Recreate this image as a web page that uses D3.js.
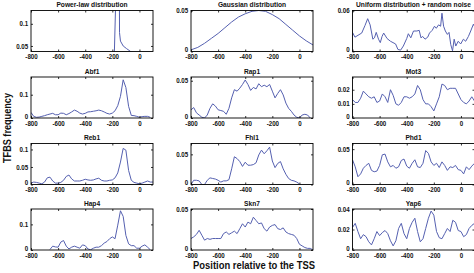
<!doctype html>
<html>
<head>
<meta charset="utf-8">
<title>TFBS frequency profiles</title>
<style>
  body { margin: 0; background: #fff; }
  svg { font-family: "Liberation Sans", Arial, sans-serif; }
  .axis path.domain { display: none; }
  .axis line { stroke: #000; stroke-width: 0.8; }
  .axis text { font-size: 6.5px; font-weight: bold; fill: #111; }
</style>
</head>
<body>
<div id="chart"></div>
<script src="https://d3js.org/d3.v7.min.js"></script>
<script>
// shared x grid (position relative to TSS)
const positions = [-800,-780,-760,-740,-720,-700,-680,-660,-640,-620,-600,-580,-560,-540,-520,-500,-480,-460,-440,-420,
  -400,-380,-360,-340,-320,-300,-280,-260,-240,-220,-200,-180,-160,-140,-120,-100,-80,-60,-40,-20,0,20,40,60,80,100];
const xTicks = [-800, -600, -400, -200, 0];

const panelTitles = ["Power-law distribution", "Gaussian distribution", "Uniform distribution + random noise",
  "Abf1", "Rap1", "Mot3", "Reb1", "Fhl1", "Phd1", "Hap4", "Skn7", "Yap6"];

// model distributions
const powerX = [-185, -158, -150, -147, -140, -120, -95, -65, -40];
const powerY = [0.035, 0.35, 0.35, 0.08, 0.061, 0.05, 0.044, 0.0375, 0.035];
const gaussX = [-800,-750,-700,-650,-600,-550,-500,-450,-400,-350,-300,-250,-200,-150,-100,-50,0,50,100];
const gaussY = [0.002,0.005,0.010,0.016,0.022,0.029,0.036,0.042,0.046,0.049,0.050,0.049,0.045,0.040,0.033,0.026,0.019,0.013,0.008];
const noiseX = [-800,-782,-732,-708,-688,-670,-650,-638,-625,-608,-595,-582,-570,-545,-520,-482,-465,-445,-425,-400,
  -388,-370,-350,-325,-308,-295,-282,-265,-245,-232,-212,-195,-182,-165,-150,-140,-128,-115,-100,-88,
  -75,-62,-50,-38,-20,-2,18,35,55,72,92,110];
const noiseY = [0.028,0.021,0.027,0.038,0.048,0.039,0.018,0.020,0.028,0.018,0.013,0.022,0.027,0.019,0.015,0.011,0.003,0.002,0.008,0.019,
  0.026,0.020,0.030,0.030,0.031,0.020,0.022,0.018,0.021,0.027,0.031,0.037,0.034,0.039,0.037,0.056,0.037,0.030,0.025,0.028,
  0.010,0.001,0.018,0.008,0.015,0.011,0.018,0.015,0.022,0.030,0.040,0.032];

// factor profiles on the shared grid
const abf1 = [0.024,0.007,0.003,0.004,0.007,0.010,0.014,0.017,0.020,0.014,0.014,0.021,0.020,0.014,0.019,0.026,0.034,0.029,0.021,0.017,
  0.020,0.026,0.027,0.029,0.031,0.034,0.031,0.026,0.020,0.017,0.021,0.031,0.053,0.093,0.164,0.131,0.050,0.011,0.010,0.007,
  0.003,0.006,0.007,0.007,0.003,null];
const rap1 = [0.011,0.014,0.007,0.004,0.001,0.000,0.004,0.013,0.019,0.016,0.011,0.010,0.009,0.005,0.013,0.027,0.038,0.036,0.040,0.045,
  0.051,0.045,0.037,0.041,0.039,0.046,0.042,0.044,0.042,0.045,0.036,0.027,0.033,0.038,0.031,0.020,0.013,0.009,0.004,0.001,
  0.000,0.004,0.005,0.004,0.000,null];
const mot3 = [0.013,0.011,0.011,0.014,0.019,0.017,0.015,0.014,0.015,0.011,0.012,0.017,0.015,0.011,0.020,0.016,0.010,0.009,0.011,0.015,
  0.015,0.014,0.015,0.017,0.023,0.020,0.013,0.010,0.010,0.008,0.005,0.010,0.015,0.024,0.023,0.020,0.021,0.021,0.021,0.017,
  0.013,0.011,0.010,0.012,0.015,0.012];
const reb1 = [0.004,0.007,0.006,0.004,0.002,0.007,0.019,0.021,0.010,0.004,0.004,0.006,0.012,0.023,0.027,0.016,0.010,0.010,0.010,0.012,
  0.015,0.013,0.012,0.013,0.016,0.018,0.012,0.010,0.010,0.012,0.013,0.019,0.033,0.064,0.103,0.098,0.040,0.012,0.006,0.004,
  0.002,0.004,0.007,0.010,0.007,0.007];
const fhl1 = [0.000,0.007,0.007,0.006,0.000,0.000,0.007,0.011,0.010,0.009,0.007,0.004,0.006,0.006,0.008,0.026,0.046,0.043,0.038,0.030,
  0.037,0.032,0.032,0.033,0.036,0.049,0.057,0.051,0.056,0.062,0.039,0.028,0.035,0.038,0.026,0.017,0.010,0.007,0.006,0.004,
  0.001,null,null,null,null,null];
const phd1 = [0.035,0.025,0.011,0.015,0.023,0.027,0.030,0.020,0.018,0.019,0.027,0.042,0.043,0.032,0.025,0.027,0.023,0.025,0.034,0.036,
  0.026,0.023,0.030,0.035,0.025,0.024,0.030,0.048,0.044,0.032,0.027,0.030,0.024,0.032,0.027,0.020,0.025,0.024,0.027,0.021,
  0.020,0.015,0.025,0.021,0.026,0.030];
const hap4 = [null,null,null,null,null,null,null,0.002,0.015,0.012,0.011,0.031,0.037,0.015,0.004,0.011,0.015,0.011,0.007,0.020,
  0.017,0.004,0.001,0.007,0.011,0.011,0.017,0.027,0.033,0.044,0.051,0.044,0.097,0.153,0.131,0.057,0.024,0.017,0.017,0.007,
  0.007,0.015,0.020,0.011,0.001,null];
const skn7 = [0.014,0.016,0.019,0.024,0.018,0.012,0.014,0.013,0.014,0.014,0.014,0.014,0.020,0.022,0.019,0.021,0.023,0.020,0.026,0.032,
  0.028,0.034,0.032,0.040,0.036,0.032,0.033,0.026,0.023,0.028,0.030,0.031,0.026,0.025,0.027,0.022,0.020,0.019,0.018,0.014,
  0.007,0.005,0.003,0.002,0.002,0.000];
const yap6 = [0.022,0.026,0.018,0.011,0.015,0.013,0.008,0.005,0.011,0.018,0.014,0.017,0.019,0.016,0.009,0.004,0.009,0.021,0.026,0.016,
  0.011,0.021,0.027,0.031,0.018,0.008,0.011,0.021,0.031,0.038,0.034,0.018,0.012,0.011,0.016,0.021,0.018,0.029,0.027,0.019,
  0.018,0.013,0.015,0.021,0.024,0.026];

// y ranges and tick labels per panel
const yMin = [0.0375, 0, 0, 0, 0, 0, 0, 0, 0, 0, 0, 0];
const yMax = [0.13, 0.05, 0.06, 0.176, 0.055, 0.029, 0.117, 0.068, 0.058, 0.16, 0.05, 0.04];
const yTicks = [[0.05, 0.1], [0, 0.05], [0, 0.06], [0, 0.1], [0, 0.05], [0, 0.01, 0.02],
  [0, 0.05, 0.1], [0, 0.05], [0, 0.05], [0, 0.1], [0, 0.05], [0, 0.02, 0.04]];

const W = 474, H = 273;
const colX = [31, 191, 352.5], rowY = [10.5, 77, 143.5, 209];
const pw = 122, ph = 41;
const squeeze = 0.95;
const lineColor = "#5560b0";

const series = [
  d3.zip(powerX, powerY), d3.zip(gaussX, gaussY), d3.zip(noiseX, noiseY),
  d3.zip(positions, abf1), d3.zip(positions, rap1), d3.zip(positions, mot3),
  d3.zip(positions, reb1), d3.zip(positions, fhl1), d3.zip(positions, phd1),
  d3.zip(positions, hap4), d3.zip(positions, skn7), d3.zip(positions, yap6)
];

const svg = d3.select("#chart").append("svg")
  .attr("width", W)
  .attr("height", H);

const fmt = d => d === 0 ? "0" : String(+d.toFixed(3));

series.forEach((data, i) => {
  const r = Math.floor(i / 3), c = i % 3;
  const g = svg.append("g")
    .attr("transform", "translate(" + colX[c] + "," + rowY[r] + ")");

  const x = d3.scaleLinear().domain([-800, 100]).range([0, pw]);
  const y = d3.scaleLinear().domain([yMin[i], yMax[i]]).range([ph, 0]);

  g.append("clipPath").attr("id", "clip" + i)
    .append("rect").attr("width", pw).attr("height", ph);

  // the curve
  g.append("path")
    .datum(data)
    .attr("clip-path", "url(#clip" + i + ")")
    .attr("fill", "none")
    .attr("stroke", lineColor)
    .attr("stroke-width", 1)
    .attr("d", d3.line()
      .defined(d => d[1] != null)
      .x(d => x(d[0]))
      .y(d => y(d[1])));

  // axes, matlab style: ticks inside on all four sides
  const bottom = g.append("g").attr("class", "axis")
    .attr("transform", "translate(0," + ph + ")")
    .call(d3.axisBottom(x).tickValues(xTicks).tickSizeInner(-2).tickSizeOuter(0).tickPadding(3)
      .tickFormat(d => String(d)));
  g.append("g").attr("class", "axis")
    .call(d3.axisTop(x).tickValues(xTicks).tickSizeInner(-2).tickSizeOuter(0).tickFormat(""));
  const left = g.append("g").attr("class", "axis")
    .call(d3.axisLeft(y).tickValues(yTicks[i]).tickSizeInner(-2).tickSizeOuter(0).tickPadding(3)
      .tickFormat(fmt));
  g.append("g").attr("class", "axis")
    .attr("transform", "translate(" + pw + ",0)")
    .call(d3.axisRight(y).tickValues(yTicks[i]).tickSizeInner(-2).tickSizeOuter(0).tickFormat(""));

  bottom.selectAll("text").attr("transform", "scale(" + squeeze + ",1)");
  // the bottom "0" label sits a little above the frame corner
  left.selectAll("text")
    .attr("transform", "scale(" + squeeze + ",1)")
    .attr("dy", d => d === yMin[i] ? "0.05em" : "0.32em");

  // frame
  g.append("rect")
    .attr("width", pw).attr("height", ph)
    .attr("fill", "none")
    .attr("stroke", "#000")
    .attr("stroke-width", 0.9);

  // title
  g.append("text")
    .attr("transform", "translate(" + (pw / 2) + ",-3.5) scale(" + squeeze + ",1)")
    .attr("text-anchor", "middle")
    .style("font-size", "7px")
    .style("font-weight", "bold")
    .style("fill", "#111")
    .text(panelTitles[i]);
});

// axis titles
svg.append("text")
  .attr("x", 254)
  .attr("y", 269)
  .attr("text-anchor", "middle")
  .attr("textLength", 122)
  .attr("lengthAdjust", "spacingAndGlyphs")
  .style("font-size", "11px")
  .style("font-weight", "bold")
  .style("fill", "#111")
  .text("Position relative to the TSS");

svg.append("text")
  .attr("transform", "translate(11,128) rotate(-90)")
  .attr("text-anchor", "middle")
  .attr("textLength", 70)
  .attr("lengthAdjust", "spacingAndGlyphs")
  .style("font-size", "10px")
  .style("font-weight", "bold")
  .style("fill", "#111")
  .text("TFBS frequency");
</script>
</body>
</html>
